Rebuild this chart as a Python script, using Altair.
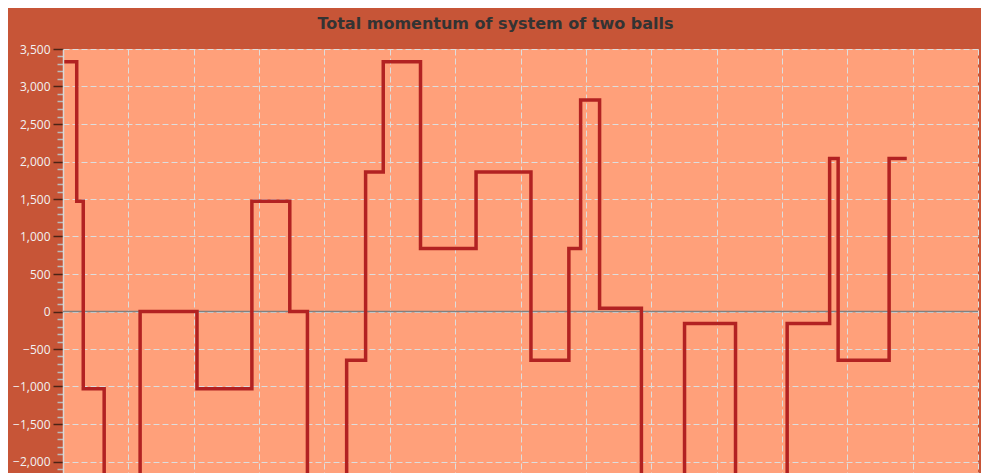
import altair as alt
import pandas as pd

# time (s) at which each momentum level starts, and the momentum level
t = [0.02, 0.21, 0.31, 0.63, 1.18, 2.05, 2.89, 3.47, 3.74, 4.34, 4.63, 4.90, 5.47,
     6.32, 7.16, 7.74, 7.92, 8.21, 8.85, 9.51, 10.29, 11.08, 11.73, 11.86, 12.64, 12.91]
momentum = [3330, 1470, -1030, -2600, 0, -1030, 1470, 0, -2600, -650, 1860, 3330, 840,
            1860, -650, 840, 2820, 45, -2600, -160, -2600, -160, 2040, -650, 2040, 2040]

major_ticks = [-2000, -1500, -1000, -500, 0, 500, 1000, 1500, 2000, 2500, 3000, 3500]
minor_ticks = [v for v in range(-2200, 3501, 100) if v % 500 != 0]
x_grid = list(range(0, 15))

title_text = "Total momentum of system of two balls"

df = pd.DataFrame({"t": t, "p": momentum})
zero_df = pd.DataFrame({"p": [0]})

y_scale = alt.Scale(domain=[-3500, 3500], nice=False, zero=False)
x_scale = alt.Scale(domain=[0, 14], nice=False)

line = alt.Chart(df).mark_line(
    interpolate="step-after", color="#B22222", strokeWidth=3.5, clip=True
).encode(
    x=alt.X("t:Q", scale=x_scale,
            axis=alt.Axis(values=x_grid, labels=False, ticks=False, domain=False,
                          grid=True, gridColor="#DDDDDD", gridDash=[6, 3],
                          gridWidth=1, title=None)),
    y=alt.Y("p:Q", scale=y_scale,
            axis=alt.Axis(values=major_ticks, format=",d", orient="left",
                          grid=True, gridColor="#DDDDDD", gridDash=[6, 3], gridWidth=1,
                          tickSize=10, tickColor="#4A2315", tickWidth=1.5,
                          domain=True, domainColor="#D8D8D8", domainWidth=1.5,
                          labelColor="#F2F2F2", labelFont="Open Sans", labelFontSize=12,
                          labelPadding=3, title=None)),
)

zero_rule = alt.Chart(zero_df).mark_rule(color="#808080", strokeWidth=1.5).encode(
    y=alt.Y("p:Q", scale=y_scale,
            axis=alt.Axis(values=minor_ticks, orient="left", labels=False, grid=False,
                          domain=False, tickSize=6, tickColor="#BBBBBB", tickWidth=1.5,
                          title=None)),
    x=alt.value(0),
    x2=alt.value(915),
)

chart = alt.layer(zero_rule, line).resolve_axis(y="independent").properties(
    width=915,
    height=525,
    background="#C75537",
    padding={"left": 55, "top": 41, "right": 3, "bottom": 0},
    autosize=alt.AutoSizeParams(type="none"),
    title=alt.TitleParams(
        text=title_text, font="DejaVu Sans", fontSize=16, fontWeight="bold",
        color="#333333", anchor="middle", frame="group", dx=-25, baseline="middle",
        offset=0, dy=-3,
    ),
).configure_view(fill="#FFA07A", stroke=None)

chart.save("out.html", embed_options={"renderer": "svg", "actions": False})
